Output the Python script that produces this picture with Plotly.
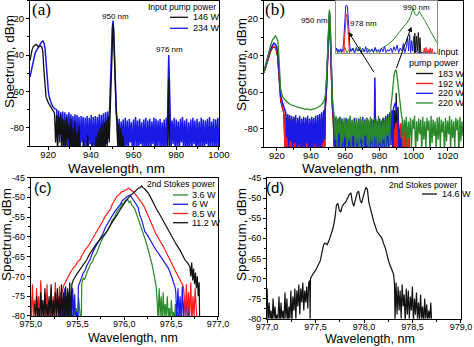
import numpy as np
import plotly.graph_objects as go

W, H = 474, 347

# Each spectrum is a list of pieces:
#   list of (wavelength, dBm) pairs  -> smooth parts of the trace
#   (start_nm, stop_nm, "v v v ...") -> densely sampled noisy stretch, values in dBm

# ---------------- (a) input pump power ----------------
A_146W = [
    [(911.5, -43), (912.0, -39.5), (912.5, -37), (913.0, -35.5), (913.5, -34.8), (914.0, -34.3),
     (914.5, -34.2), (915.0, -34.8), (915.5, -35.5), (916.0, -35.3), (916.5, -35), (917.0, -35.5),
     (917.5, -38), (918.0, -48), (918.5, -58), (919.0, -63), (920.0, -66), (921.0, -68),
     (922.0, -69.5), (922.8, -71)],
    (923.0, 935.0, "-72 -88 -73 -95 -74 -84 -72.5 -97 -75 -90 -76 -98 -74 -86 -78 -99 -75 -93 "
                   "-80 -97 -77 -100 -82 -95 -79 -99"),
    (935.5, 944.0, "-92 -99 -86 -100 -95 -98 -84 -100 -93 -99 -88 -100 -91 -97 -85 -100 -82 -98"),
    (944.4, 948.6, "-80 -97 -78 -94 -77 -92 -76 -90 -74 -88"),
    [(949.1, -68), (949.5, -56), (949.8, -40), (950.1, -28), (950.4, -23), (950.7, -28),
     (951.0, -42), (951.4, -58), (951.8, -70)],
    (952.1, 955.5, "-76 -90 -78 -95 -80 -98 -84 -100"),
    [(956.0, -100), (976.0, -100), (976.3, -70), (976.5, -53), (976.7, -70), (977.0, -100),
     (1000.0, -100)],
]

A_234W = [
    [(911.5, -52), (912.0, -49), (912.5, -46), (913.0, -43), (913.5, -40.5), (914.0, -38.5),
     (914.5, -37.5), (915.0, -36.5), (915.5, -35.5), (916.0, -34.5), (916.5, -33.5), (917.0, -32.7),
     (917.6, -32.3), (918.1, -33.5), (918.6, -37), (919.1, -45), (919.6, -54), (920.1, -60),
     (920.6, -63.5), (921.2, -66), (922.0, -68), (923.0, -69.5)],
    (924.0, 948.3, "-70 -84 -70.5 -88 -71.5 -83 -71 -92 -71.5 -86 -72.5 -95 -71.5 -85 -72.5 -90 "
                   "-73.5 -87 -72.5 -96 -73 -89 -74 -93 -73.5 -88 -74 -95 -74.5 -90 -73.5 -94 "
                   "-74.5 -89 -73 -96 -74 -92 -73.5 -95 -74 -90 -72.5 -94 -73 -91 -72 -95 "
                   "-71.5 -89 -71 -86"),
    [(949.0, -66), (949.4, -55), (949.7, -38), (950.0, -26), (950.4, -21), (950.7, -26),
     (951.0, -38), (951.3, -55), (951.7, -66), (952.0, -72)],
    (952.3, 975.8, "-74 -90 -75 -93 -76.5 -89 -75.5 -95 -74.5 -91 -76 -94 -75 -88 -77 -96 "
                   "-75.5 -92 -74 -90 -76 -95 -75 -89 -77 -94 -75.5 -91 -74.5 -96 -76 -90 "
                   "-75 -93 -76.5 -89 -74.5 -95 -75 -92 -76 -90 -75 -94 -77 -91 -75.5 -96 -74.5 -90"),
    [(976.1, -62), (976.3, -48), (976.5, -40), (976.7, -48), (976.9, -62)],
    (977.1, 1000.0, "-75 -92 -76 -89 -74.5 -95 -75.5 -90 -76.5 -94 -75 -88 -74 -93 -76 -91 "
                    "-75 -96 -77 -90 -75.5 -94 -74.5 -89 -76 -95 -75 -91 -76.5 -93 -74.5 -90 "
                    "-75.5 -96 -76 -89 -75 -94 -74 -92 -76.5 -90 -75 -95 -75.5 -91 -74.5 -93"),
]

# ---------------- (b) input pump power ----------------
B_183W = [
    [(912.5, -49.5), (913.5, -46.5), (914.5, -43), (915.5, -40), (916.5, -37.5), (917.5, -35.8),
     (918.2, -35.3), (919.0, -35.8), (919.8, -37.5), (920.5, -41), (921.1, -51), (921.6, -60),
     (922.3, -65), (923.2, -68.5), (924.0, -71)],
    (924.2, 948.0, "-74 -96 -76 -100 -75 -97 -78 -100 -77 -98 -80 -100 -79 -97 -82 -100 -80 -98 "
                   "-83 -100 -81 -99 -80 -100 -78 -97 -76 -99 -74 -96"),
    [(948.4, -69), (949.0, -61), (949.5, -48), (950.0, -33), (950.5, -21), (950.8, -19),
     (951.1, -23), (951.5, -38), (952.0, -55), (952.5, -68), (953.0, -75)],
    (953.2, 958.0, "-82 -97 -86 -100 -90 -100 -94 -100"),
    [(959.0, -100), (987.5, -100)],
    (987.8, 991.5, "-80 -95 -70 -92 -60.5 -90 -68 -96"),
    [(992.0, -100), (1029.0, -100)],
]

B_192W = [
    [(912.5, -49), (913.5, -46), (914.5, -42.5), (915.5, -39.5), (916.5, -37), (917.5, -35.3),
     (918.2, -35), (919.0, -35.5), (919.8, -37), (920.5, -40), (921.1, -50), (921.6, -59),
     (922.3, -64), (923.2, -67.5), (924.0, -70)],
    (924.2, 948.0, "-72 -94 -74 -98 -73 -92 -76 -100 -75 -95 -74 -99 -77 -93 -75 -100 -78 -96 "
                   "-76 -99 -77 -94 -75 -100 -78 -97 -76 -99 -75 -95 -77 -100 -76 -96 -74 -99 "
                   "-73 -94 -72 -92"),
    [(948.4, -68), (949.0, -60), (949.5, -47), (950.0, -32), (950.5, -20), (950.8, -18),
     (951.1, -22), (951.5, -37), (952.0, -54), (952.5, -67), (953.0, -74)],
    (953.2, 962.0, "-80 -96 -84 -100 -88 -100 -92 -100 -95 -100"),
    [(963.0, -100), (977.1, -100), (977.4, -58), (977.7, -100), (988.0, -100)],
    (988.5, 998.0, "-80 -96 -77 -99 -76 -94 -78 -100 -77 -95 -76 -99 -78 -96 -77 -100 -79 -94 "
                   "-82 -99"),
    [(998.5, -100), (1029.0, -100)],
]

PEAK_978 = (977.4, -52)
B_220W_BLUE = [
    [(912.5, -48.7), (913.5, -45), (914.5, -41.5), (915.5, -38.5), (916.5, -36), (917.5, -34),
     (918.3, -33.3), (919.0, -33.8), (919.8, -35), (920.5, -38), (921.1, -48), (921.6, -57),
     (922.3, -62), (923.2, -65.5), (924.2, -68), (925.0, -70)],
    (925.2, 948.0, "-71 -85 -72 -90 -72.5 -87 -73 -94 -73.5 -88 -72.5 -95 -74 -89 -73 -93 "
                   "-74.5 -90 -73.5 -96 -74 -88 -73 -94 -74.5 -91 -73.5 -95 -74 -89 -73 -93 "
                   "-72.5 -90 -72 -95 -71 -88 -70 -86"),
    [(948.4, -66), (949.0, -58), (949.5, -45), (950.0, -30), (950.5, -18), (950.8, -16.5),
     (951.1, -20), (951.5, -35), (952.0, -52), (952.5, -65), (953.0, -72)],
    (953.2, 977.0, "-73 -92 -74 -95 -75 -90 -73.5 -96 -74.5 -91 -76 -94 -74 -90 -75 -97 "
                   "-73.5 -92 -75.5 -95 -74 -91 -76 -96 -74.5 -90 -75 -94 -73.5 -92 -75 -97 "
                   "-74 -91 -76 -95 -74.5 -90 -75 -93"),
    [(977.2, -72), PEAK_978, (977.6, -72)],
    (977.8, 988.0, "-75 -93 -76 -90 -74.5 -96 -75.5 -91 -74 -94 -73 -90 -72 -92 -71 -89 -70 -91"),
    [(988.3, -69), (988.8, -67), (989.3, -66), (989.8, -67), (990.3, -69), (990.8, -72)],
    (991.0, 993.0, "-76 -92 -80 -95 -85 -98"),
    [(993.5, -100), (1029.0, -100)],
]

PEAK_990 = (989.7, -47.8)
B_220W_GREEN = [
    [(912.5, -49), (913.5, -45), (914.5, -41), (915.5, -37.5), (916.5, -34), (917.5, -31.5),
     (918.5, -30), (919.2, -29.3), (920.0, -30.5), (920.6, -32), (921.2, -40), (921.7, -52),
     (922.2, -58), (923.0, -61.5), (924.0, -63.5), (925.0, -64.5), (926.0, -65.6), (927.0, -66.2),
     (928.0, -66.8), (929.0, -67.1), (930.5, -67.9), (932.0, -68.1), (933.5, -68.6), (935.0, -68.8),
     (936.5, -69.4), (938.0, -69.2), (939.5, -69.7), (941.0, -69.3), (942.5, -69.1), (944.0, -68.3),
     (945.0, -67.9), (946.0, -67), (947.0, -66), (947.8, -64.5), (948.5, -61), (949.2, -50),
     (949.8, -33), (950.4, -17), (950.8, -15), (951.2, -19), (951.6, -35), (952.0, -50),
     (952.5, -62), (953.0, -68.5), (953.3, -71.5)],
    (953.5, 986.0, "-72 -86 -73 -90 -74 -83 -73.5 -92 -75 -88 -74 -85 -76 -91 -74.5 -87 -73 -93 "
                   "-75 -84 -76 -90 -74 -88 -75.5 -92 -73.5 -86 -75 -91 -76 -84 -74 -89 -75 -93 "
                   "-73.5 -87 -76 -90 -74.5 -85 -75 -92 -73 -88 -76 -91 -74 -86 -75.5 -90 -74 -84 "
                   "-73 -88"),
    [(986.3, -72), (986.8, -68), (987.4, -63), (988.0, -56), (988.6, -51), (989.2, -48.5),
     PEAK_990, (990.2, -49.5), (990.7, -54), (991.3, -60), (991.9, -66), (992.6, -71),
     (993.1, -73.5)],
    (993.4, 1029.0, "-74 -89 -75 -82 -73.5 -94 -76 -85 -74 -91 -75 -80 -73 -95 -76 -87 -74.5 -83 "
                    "-75 -93 -73.5 -86 -76 -90 -74 -81 -75.5 -95 -73 -88 -75 -84 -76 -92 -74 -86 "
                    "-73.5 -90 -75 -82 -76 -94 -74 -87 -75.5 -83 -73 -92 -75 -85 -76 -90 -74 -81 "
                    "-75 -95 -73.5 -87 -76 -84"),
]

# inset of (b): 976-994 nm detail
I_GREEN = [
    (976.0, 983.8, "-79 -77.5 -80 -78 -79 -76.5 -80 -78.5 -79.5 -77 -80 -78 -79 -76 -80 -78.5 "
                   "-79 -77 -80 -78 -79.5 -77.5 -80 -78.5"),
    [(983.9, -78.5), (984.6, -76.5), (985.5, -74.5), (986.4, -71.5), (987.3, -67), (988.1, -63.5),
     (988.9, -60), (989.5, -56), (989.95, -50.5), (990.4, -54.5), (990.75, -55), (991.1, -52.2),
     (991.6, -55.5), (992.2, -59), (992.8, -63.5), (993.5, -68), (994.3, -73.5)],
]
I_BLUE = [
    (976.0, 977.3, "-79 -77 -80 -78 -79.5 -77.5 -80 -78.5"),
    [(977.45, -74), (977.6, -64), (977.75, -54), (977.85, -48.5), (978.0, -48.2), (978.15, -49),
     (978.3, -57), (978.45, -68), (978.6, -76), (978.75, -79)],
    (978.9, 988.8, "-79 -77 -80 -76.5 -79 -78 -80 -77 -79.5 -76 -80 -78 -79 -77.5 -80 -76.5 -79 "
                   "-78 -80 -77 -79.5 -76 -80 -78 -79 -77 -80 -76 -79 -75 -80 -77 -79 -74 -80 -76"),
    (989.0, 990.3, "-70 -79 -68 -80 -72 -79 -69 -80"),
    (990.5, 994.3, "-79 -80 -79.5 -80.5 -79 -80.5 -80 -81 -80 -81"),
]
I_RED = [
    [(976.0, -82), (977.5, -82), (977.65, -70), (977.8, -60), (977.95, -54), (978.1, -55),
     (978.25, -63), (978.4, -73), (978.55, -82), (991.8, -82)],
    (992.0, 993.6, "-77 -80.5 -76.5 -80.5 -78 -80.5 -76.8 -80.5 -77.5 -80.5"),
    [(994.3, -82)],
]
I_BLACK = [
    [(976.0, -82), (990.2, -82)],
    (990.3, 991.4, "-67 -80 -69 -79 -66.5 -80 -70 -82"),
    [(994.3, -82)],
]

# ---------------- (c) 2nd Stokes power ----------------
C_3_6W = [
    (975.44, 975.535, "-79 -82 -76.5 -81 -78 -82 -75.5 -81 -82"),
    [(975.540, -80.5), (975.545, -71.7), (975.56, -70.5), (975.575, -70.8), (975.598, -69.2),
     (975.62, -68), (975.64, -66.8), (975.66, -66.2), (975.68, -65), (975.705, -64.1),
     (975.725, -62.5), (975.745, -61.5), (975.77, -60.3), (975.79, -59.5), (975.81, -58.6),
     (975.83, -57.8), (975.847, -57.4), (975.865, -56), (975.88, -55.4), (975.90, -54.8),
     (975.92, -53.6), (975.94, -53), (975.96, -52.4), (975.975, -51.5), (975.989, -51.9),
     (976.005, -51), (976.02, -50.8), (976.036, -50.6), (976.05, -51.3), (976.065, -51.0),
     (976.078, -51.9), (976.095, -52.3), (976.114, -53.1), (976.13, -54.2), (976.15, -55.4),
     (976.167, -56.5), (976.185, -57.6), (976.202, -59.1), (976.22, -60.4), (976.24, -62),
     (976.256, -63.3), (976.275, -64.8), (976.292, -66.6), (976.31, -68.6), (976.327, -70.9),
     (976.34, -72.5)],
    (976.35, 976.60, "-76 -81 -73 -80 -75 -82 -74 -80 -77 -81 -75 -80 -78 -82 -76 -80 -79 -81 "
                     "-77 -82 -79 -81 -78 -83"),
]
C_6W = [
    (975.30, 975.50, "-76 -81 -74 -80 -77 -82 -73 -80 -75 -81 -74 -80 -76 -82 -73 -80 -74.5 -81 "
                     "-79 -81"),
    [(975.505, -81), (975.508, -72.5), (975.53, -71), (975.56, -69.2), (975.58, -68.5),
     (975.60, -67.2), (975.633, -65.8), (975.66, -64), (975.69, -62.6), (975.715, -61.5),
     (975.74, -60.7), (975.77, -59.2), (975.80, -57.5), (975.825, -56.5), (975.847, -55.7),
     (975.875, -54.3), (975.90, -53.5), (975.93, -52.6), (975.954, -51.9), (975.98, -50.8),
     (976.007, -50.2), (976.03, -49.8), (976.06, -49.4), (976.08, -50), (976.096, -50.6),
     (976.12, -51.5), (976.149, -52.7), (976.165, -54.5), (976.185, -55.7), (976.20, -57.2),
     (976.22, -58.7), (976.245, -59.5), (976.274, -60.7), (976.29, -61.3), (976.31, -62.4),
     (976.335, -63.2), (976.363, -64.1), (976.39, -65), (976.416, -65.8), (976.44, -66.8),
     (976.47, -67.9), (976.49, -69), (976.505, -70), (976.525, -71.2), (976.54, -72.5)],
    (976.55, 976.70, "-74 -81 -73 -80 -75 -82 -72.5 -80 -76 -81 -74 -82 -77 -83"),
]
C_8_5W = [
    (974.995, 975.34, "-74 -81 -72 -80 -76 -81 -73 -80 -75 -82 -71 -80 -77 -81 -74 -80 -72 -81 "
                      "-76 -80 -73 -82 -75 -80 -71.5 -81 -74 -80 -72.5 -81 -73.5 -74"),
    [(975.348, -72.5), (975.37, -71.4), (975.395, -70), (975.419, -69.2), (975.45, -68),
     (975.48, -67.2), (975.50, -66.3), (975.526, -65.8), (975.55, -64.5), (975.58, -63.3),
     (975.61, -62.5), (975.633, -61.6), (975.66, -60.3), (975.69, -59), (975.715, -58.2),
     (975.74, -57.4), (975.77, -56), (975.80, -54.6), (975.825, -53.8), (975.847, -53.2),
     (975.87, -51.8), (975.895, -50.6), (975.918, -49.8), (975.95, -49.2), (975.97, -48.6),
     (975.989, -48.5), (976.01, -48.1), (976.025, -48.0), (976.043, -47.7), (976.06, -47.9),
     (976.08, -48.4), (976.096, -48.5), (976.12, -49.3), (976.149, -50.2), (976.175, -51),
     (976.202, -51.9), (976.23, -53.3), (976.256, -54.8), (976.28, -56.2), (976.31, -57.8),
     (976.335, -59.1), (976.363, -60.3), (976.39, -61.3), (976.416, -62.4), (976.44, -63.6),
     (976.47, -64.9), (976.50, -66.3), (976.523, -67.5), (976.55, -68.8), (976.576, -70),
     (976.60, -71.3), (976.63, -72.5)],
    (976.64, 976.78, "-75 -80 -72 -81 -74 -80 -71.5 -82 -75 -80 -73 -81 -83"),
]
C_11_2W = [
    (975.04, 975.45, "-77 -81 -75 -80 -78 -82 -74 -80 -76 -81 -73 -80 -77 -81 -75 -80 -72 -82 "
                     "-76 -80 -74 -81 -73 -80 -75 -82 -72 -80 -74 -81 -72.5 -80 -73 -81 -71.5 "
                     "-80 -72 -71"),
    [(975.455, -70.9), (975.49, -69.5), (975.526, -68.3), (975.56, -67), (975.598, -65.8),
     (975.63, -64.3), (975.669, -62.9), (975.70, -61.8), (975.74, -60.7), (975.775, -59.6),
     (975.811, -58.7), (975.845, -57.2), (975.882, -55.7), (975.92, -54.5), (975.954, -53.2),
     (975.99, -51.8), (976.025, -50.6), (976.06, -49.7), (976.096, -48.9), (976.12, -48.3),
     (976.149, -47.7), (976.17, -47.5), (976.185, -47.1), (976.20, -47.6), (976.21, -47.7),
     (976.23, -48.2), (976.256, -48.9), (976.285, -50.2), (976.31, -51.5), (976.345, -53),
     (976.38, -54.4), (976.415, -55.9), (976.452, -57.4), (976.49, -59.1), (976.523, -60.7),
     (976.56, -62.1), (976.594, -63.3), (976.62, -64.6), (976.647, -65.8), (976.675, -66.6),
     (976.70, -67.5), (976.71, -70), (976.72, -66.5), (976.73, -71), (976.74, -68), (976.75, -72),
     (976.76, -69), (976.77, -73), (976.78, -70), (976.79, -75), (976.80, -71.5), (976.805, -82)],
]

# ---------------- (d) 2nd Stokes power 14.6 W ----------------
D_14_6W = [
    (977.0, 977.44, "-72.5 -81 -76 -80 -78 -82 -75 -80 -77 -81 -79 -80 -74.5 -82 -76 -80 -78 -81 "
                    "-73.5 -80 -75 -82 -77 -80 -73 -81 -74.5 -78 -72.5 -80 -73 -77 -71.5 -79 "
                    "-72.5 -76 -71 -78 -73 -76 -72 -77.5 -71 -70.5"),
    [(977.444, -80.5), (977.448, -70), (977.47, -69), (977.50, -68), (977.52, -67), (977.55, -65.5),
     (977.57, -63), (977.585, -61.5), (977.60, -61.2), (977.62, -61.6), (977.64, -60.5),
     (977.66, -59), (977.68, -57.5), (977.70, -55), (977.715, -51.8), (977.73, -51.3),
     (977.745, -53.0), (977.76, -53.5), (977.775, -52.0), (977.79, -51.5), (977.81, -51.0),
     (977.83, -50.0), (977.85, -49.0), (977.865, -48.7), (977.88, -51.0), (977.895, -52.0),
     (977.91, -50.5), (977.93, -48.6), (977.945, -48.3), (977.96, -50.5), (977.975, -51.2),
     (977.99, -49.5), (978.005, -48.5), (978.02, -47.3), (978.035, -47.8), (978.05, -51.0),
     (978.065, -52.5), (978.08, -54.0), (978.10, -55.8), (978.134, -58.3), (978.16, -59.3),
     (978.186, -60.0), (978.20, -61.2), (978.22, -62.4), (978.254, -65.7), (978.28, -67.5),
     (978.306, -69.0), (978.315, -71.5)],
    (978.32, 978.70, "-80.5 -71 -79 -72 -78 -73 -80 -71.5 -77 -74 -81 -72.5 -79 -73 -80 -74.5 "
                     "-78 -72 -81 -75 -79 -73.5 -80 -76 -81 -74 -80 -77 -82 -75 -80 -76.5 -81 "
                     "-78 -80 -76 -82"),
]

# tick values and labels
AB_YTICKS = [-80, -60, -40, -20]
A_XTICKS = [920, 940, 960, 980, 1000]
B_XTICKS = [920, 940, 960, 980, 1000, 1020]
CD_YTICKS = [-80, -75, -70, -65, -60, -55, -50, -45]
C_XTICKS = [975.0, 975.5, 976.0, 976.5, 977.0]
D_XTICKS = [977.0, 977.5, 978.0, 978.5, 979.0]


def comma(v):
    return f"{v:.1f}".replace(".", ",")


def build(pieces):
    xs, ys = [], []
    for p in pieces:
        if isinstance(p, tuple) and isinstance(p[2], str):
            vals = [float(v) for v in p[2].split()]
            xs += list(np.linspace(p[0], p[1], len(vals)))
            ys += vals
        else:
            for x, y in p:
                xs.append(x)
                ys.append(y)
    return xs, ys


BLACK = "#111111"
RED = "#ff1a1a"
BLUE = "#1a1ae6"
GREEN = "#2a8a2a"

TRACES = [
    (A_234W, BLUE, "x", "y", 1.5),
    (A_146W, BLACK, "x", "y", 1.3),
    (B_183W, BLACK, "x2", "y2", 1.3),
    (B_192W, RED, "x2", "y2", 1.4),
    (B_220W_BLUE, BLUE, "x2", "y2", 1.5),
    (B_220W_GREEN, GREEN, "x2", "y2", 1.3),
    (I_GREEN, GREEN, "x5", "y5", 1.0),
    (I_BLUE, BLUE, "x5", "y5", 1.0),
    (I_RED, RED, "x5", "y5", 1.0),
    (I_BLACK, BLACK, "x5", "y5", 1.0),
    (C_3_6W, GREEN, "x3", "y3", 1.2),
    (C_6W, BLUE, "x3", "y3", 1.2),
    (C_8_5W, RED, "x3", "y3", 1.2),
    (C_11_2W, BLACK, "x3", "y3", 1.2),
    (D_14_6W, BLACK, "x4", "y4", 1.2),
]

fig = go.Figure()
for pieces, color, xa, ya, lw in TRACES:
    x, y = build(pieces)
    fig.add_trace(go.Scatter(x=x, y=y, mode="lines", xaxis=xa, yaxis=ya,
                             line=dict(color=color, width=lw), showlegend=False,
                             hoverinfo="skip"))

SANS = "Liberation Sans"


def px(x):
    return x / W


def py(y):
    return 1 - y / H


def axis(rng, domain, anchor, tickvals, ticktext, minor_tick0, minor_dtick, standoff=0,
         fsize=9.5):
    return dict(range=rng, domain=domain, anchor=anchor, tickmode="array",
                tickvals=tickvals, ticktext=ticktext, ticks="outside", ticklen=3,
                tickwidth=1, tickcolor="black", showline=True, linecolor="black",
                linewidth=1, mirror=True, showgrid=False, zeroline=False,
                automargin=False, ticklabelstandoff=standoff,
                tickfont=dict(family=SANS, size=fsize, color="black"),
                minor=dict(ticks="outside", ticklen=2, tick0=minor_tick0,
                           dtick=minor_dtick, tickcolor="black", showgrid=False))


def inset_axis(rng, domain, anchor):
    return dict(range=rng, domain=domain, anchor=anchor, showticklabels=False, ticks="",
                showline=True, mirror=True, linecolor="#8c8c8c", linewidth=1,
                showgrid=False, zeroline=False, automargin=False)


layout = dict(
    width=W, height=H, margin=dict(l=0, r=0, t=0, b=0, autoexpand=False),
    paper_bgcolor="white", plot_bgcolor="white", showlegend=False,
    xaxis=axis([911.5, 1000.05], [px(30), px(219)], "y", A_XTICKS,
               [str(v) for v in A_XTICKS], 910, 10, -3),
    yaxis=axis([-90, -10], [py(146), py(0.5)], "x", AB_YTICKS,
               [str(v) for v in AB_YTICKS], -90, 10),
    xaxis2=axis([912.5, 1029], [px(264), px(463)], "y2", B_XTICKS,
                [str(v) for v in B_XTICKS], 910, 10, -3),
    yaxis2=axis([-90, -10], [py(147), py(0.5)], "x2", AB_YTICKS,
                [str(v) for v in AB_YTICKS], -90, 10),
    xaxis3=axis([974.999, 977.001], [px(30.7), px(218)], "y3", C_XTICKS,
                [comma(v) for v in C_XTICKS], 975, 0.25, -4, 9),
    yaxis3=axis([-80.02, -44.98], [py(316), py(177.5)], "x3", CD_YTICKS,
                [str(v) for v in CD_YTICKS], -80, 2.5, 0, 9),
    xaxis4=axis([976.999, 979.001], [px(267), px(461)], "y4", D_XTICKS,
                [comma(v) for v in D_XTICKS], 977, 0.25, -4, 9),
    yaxis4=axis([-80.02, -44.98], [py(318.7), py(178)], "x4", CD_YTICKS,
                [str(v) for v in CD_YTICKS], -80, 2.5, 0, 9),
    xaxis5=inset_axis([976, 994.3], [px(335.5), px(437)], "y5"),
    yaxis5=inset_axis([-80.5, -45], [py(53.3), py(0.5)], "x5"),
)

ann = []
shapes = []


def text(x, y, s, size, anchor="center", family=SANS, angle=0):
    ann.append(dict(x=px(x), y=py(y), xref="paper", yref="paper", text=s, showarrow=False,
                    xanchor=anchor, yanchor="middle", textangle=angle,
                    font=dict(family=family, size=size, color="black")))


def legend_line(x0, x1, y, color):
    shapes.append(dict(type="line", xref="paper", yref="paper", x0=px(x0), x1=px(x1),
                       y0=py(y), y1=py(y), line=dict(color=color, width=1.3)))


# panel letters
text(41, 10, "(a)", 17, family="Liberation Serif")
text(275, 10, "(b)", 17, family="Liberation Serif")
text(42.5, 188, "(c)", 15)
text(275, 188, "(d)", 15)

# axis titles
text(116, 168.5, "Wavelength, nm", 13.5)
text(350, 168.5, "Wavelength, nm", 13.5)
text(133, 337.5, "Wavelength, nm", 12.5)
text(370, 339, "Wavelength, nm", 12.5)
text(9, 62, "Spectrum, dBm", 13.5, angle=-90)
text(242, 65, "Spectrum, dBm", 13.5, angle=-90)
text(6, 235, "Spectrum, dBm", 13.5, angle=-90)
text(241, 235, "Spectrum, dBm", 13.5, angle=-90)

# peak labels
text(115, 16, "950 nm", 8)
text(169.7, 49, "976 nm", 8)
text(314, 20, "950 nm", 8)
text(363.5, 24, "978 nm", 8)
text(416, 8, "990 nm", 8)

# legend (a)
text(218, 7, "Input pump power", 8.5, anchor="right")
for yy, lab, col in [(17.3, "146 W", BLACK), (28.3, "234 W", BLUE)]:
    legend_line(170, 188, yy, col)
    text(191, yy, lab, 9, anchor="left")

# legend (b)
text(461, 52, "Input", 9, anchor="right")
text(461, 63.3, "pump power", 9, anchor="right")
for yy, lab, col in [(73.5, "183 W", BLACK), (83.5, "192 W", RED),
                     (93.3, "220 W", BLUE), (103, "220 W", GREEN)]:
    legend_line(416, 433, yy, col)
    text(436, yy, lab, 9, anchor="left")

# legend (c)
text(217, 184, "2nd Stokes power", 8.5, anchor="right")
for yy, lab, col in [(195, "3.6 W", GREEN), (204.3, "6 W", BLUE),
                     (213.5, "8.5 W", RED), (222.7, "11.2 W", BLACK)]:
    legend_line(173, 188, yy, col)
    text(190, yy, lab, 9, anchor="left")

# legend (d)
text(459, 184.7, "2nd Stokes power", 8.5, anchor="right")
legend_line(422, 437, 194, BLACK)
text(440, 194, "14.6 W", 9, anchor="left")

# arrows from the 978 nm and 990 nm lines to the inset
for (hx, hy), (tx, ty) in [((962.0, -27.2), (PEAK_978[0], PEAK_978[1] + 2)),
                           ((998.8, -24.3), PEAK_990)]:
    ann.append(dict(x=hx, y=hy, xref="x2", yref="y2", ax=tx, ay=ty, axref="x2", ayref="y2",
                    text="", showarrow=True, arrowhead=2, arrowsize=1, arrowwidth=1,
                    arrowcolor="black"))

layout["annotations"] = ann
layout["shapes"] = shapes
fig.update_layout(**layout)
fig.write_html("out.html")
